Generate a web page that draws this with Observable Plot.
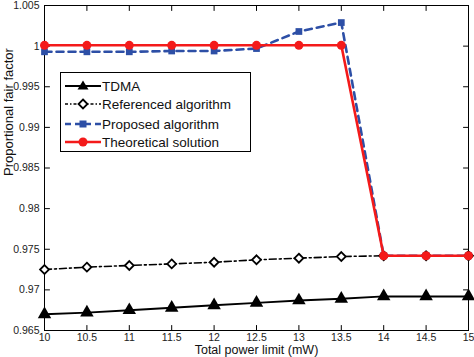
<!DOCTYPE html>
<html><head><meta charset="utf-8">
<script src="https://cdn.jsdelivr.net/npm/d3@7"></script>
<script src="https://cdn.jsdelivr.net/npm/@observablehq/plot@0.6"></script>
<style>
html,body{margin:0;padding:0;background:#fff;}
#wrap{position:relative;width:474px;height:357px;overflow:hidden;font-family:"Liberation Sans",Arial,sans-serif;}
#legend{position:absolute;left:60px;top:72px;width:191px;height:80px;border:1px solid #000;background:#fff;box-sizing:border-box;}
.row{position:absolute;left:0;height:18px;display:flex;align-items:center;font-size:13.5px;color:#111;white-space:nowrap;}
.row svg{display:block;margin-left:4px;margin-right:1px;}
</style>
</head><body>
<div id="wrap"><div id="chart"></div><div id="legend"></div></div>
<script>
const powerLimits = [10, 10.5, 11, 11.5, 12, 12.5, 13, 13.5, 14, 14.5, 15];
const tdma        = [0.9670, 0.9672, 0.9675, 0.9678, 0.9681, 0.9684, 0.9687, 0.9689, 0.9692, 0.9692, 0.9692];
const referenced  = [0.9725, 0.9728, 0.9730, 0.9732, 0.9734, 0.9737, 0.9739, 0.9741, 0.9742, 0.9742, 0.9742];
const proposed    = [0.9993, 0.9993, 0.9993, 0.9994, 0.9994, 0.9997, 1.0018, 1.0029, 0.9742, 0.9742, 0.9742];
const theoretical = [1.0001, 1.0001, 1.0001, 1.0001, 1.0001, 1.0001, 1.0001, 1.0001, 0.9742, 0.9742, 0.9742];
const xTicks = [10, 10.5, 11, 11.5, 12, 12.5, 13, 13.5, 14, 14.5, 15];
const yTicks = [0.965, 0.97, 0.975, 0.98, 0.985, 0.99, 0.995, 1, 1.005];
const seriesNames = ["TDMA", "Referenced algorithm", "Proposed algorithm", "Theoretical solution"];
const xLabel = "Total power limit (mW)";
const yLabel = "Proportional fair factor";

const RED = "#f41a1a", BLUE = "#2d4fa6";
const fmt = d => String(+d.toFixed(3));
const tickShape = {draw(ctx, l) { ctx.moveTo(0, 0); ctx.lineTo(0, -l); }};
const inTick = (data, opts) => Plot.vector(data, {length: 5, anchor: "start", shape: tickShape, stroke: "#000", strokeWidth: 1, ...opts});

const chart = Plot.plot({
  width: 474, height: 357,
  marginLeft: 44, marginRight: 6, marginTop: 5, marginBottom: 27,
  style: {fontFamily: "'Liberation Sans', Arial, sans-serif", background: "#fff", overflow: "visible"},
  x: {domain: [10, 15]},
  y: {domain: [0.965, 1.005]},
  marks: [
    Plot.axisX({ticks: xTicks, tickSize: 0, tickPadding: 3, tickFormat: fmt, fontSize: 10.5, fill: "#222", label: null}),
    Plot.axisY({ticks: yTicks, tickSize: 0, tickPadding: 5, tickFormat: fmt, fontSize: 10.5, fill: "#222", label: null}),
    inTick(xTicks, {x: d => d, frameAnchor: "bottom", rotate: 0}),
    inTick(xTicks, {x: d => d, frameAnchor: "top", rotate: 180}),
    inTick(yTicks, {y: d => d, frameAnchor: "left", rotate: 90}),
    inTick(yTicks, {y: d => d, frameAnchor: "right", rotate: -90}),
    Plot.frame({stroke: "#000", strokeWidth: 1}),
    Plot.text([xLabel], {frameAnchor: "bottom", dy: 19, fontSize: 12.5, fill: "#111", lineAnchor: "middle"}),
    Plot.text([yLabel], {frameAnchor: "left", dx: -36, dy: 8, rotate: -90, fontSize: 13, fill: "#111", lineAnchor: "middle"}),
    Plot.lineY(tdma, {x: powerLimits, stroke: "#000", strokeWidth: 2}),
    Plot.dot(tdma, {x: powerLimits, y: tdma, symbol: "triangle", fill: "#000", r: 5}),
    Plot.lineY(referenced, {x: powerLimits, stroke: "#000", strokeWidth: 1.6, strokeDasharray: "7,3,2,3"}),
    Plot.dot(referenced, {x: powerLimits, y: referenced, symbol: "diamond2", fill: "#fff", stroke: "#000", strokeWidth: 1.8, r: 4}),
    Plot.lineY(proposed, {x: powerLimits, stroke: BLUE, strokeWidth: 2.6, strokeDasharray: "7,5"}),
    Plot.dot(proposed, {x: powerLimits, y: proposed, symbol: "square", fill: BLUE, r: 3.8}),
    Plot.lineY(theoretical, {x: powerLimits, stroke: RED, strokeWidth: 2.6}),
    Plot.dot(theoretical, {x: powerLimits, y: theoretical, symbol: "circle", fill: RED, r: 4.5})
  ]
});
document.getElementById("chart").appendChild(chart);

// legend
const legendStyles = [
  {stroke: "#000", w: 2, dash: null, marker: "tri", fill: "#000"},
  {stroke: "#000", w: 1.6, dash: "3,2,1.5,2", marker: "dia", fill: "#fff"},
  {stroke: BLUE, w: 2.6, dash: "6,4", marker: "sq", fill: BLUE},
  {stroke: RED, w: 2.6, dash: null, marker: "circ", fill: RED}
];
const rowTops = [4, 22, 42, 60];
const legend = document.getElementById("legend");
seriesNames.forEach((name, i) => {
  const s = legendStyles[i];
  let m = "";
  if (s.marker === "tri") m = `<path d="M18,3.5 L23.5,12.5 L12.5,12.5 Z" fill="#000"/>`;
  if (s.marker === "dia") m = `<path d="M18,4.5 L22.5,9 L18,13.5 L13.5,9 Z" fill="#fff" stroke="#000" stroke-width="1.8"/>`;
  if (s.marker === "sq") m = `<rect x="14.5" y="5.5" width="7" height="7" fill="${BLUE}"/>`;
  if (s.marker === "circ") m = `<circle cx="18" cy="9" r="4.5" fill="${RED}"/>`;
  const row = document.createElement("div");
  row.className = "row";
  row.style.top = rowTops[i] + "px";
  row.innerHTML = `<svg width="36" height="18"><line x1="0" y1="9" x2="36" y2="9" stroke="${s.stroke}" stroke-width="${s.w}" ${s.dash ? `stroke-dasharray="${s.dash}"` : ""}/>${m}</svg><span>${name}</span>`;
  legend.appendChild(row);
});
</script>
</body></html>
